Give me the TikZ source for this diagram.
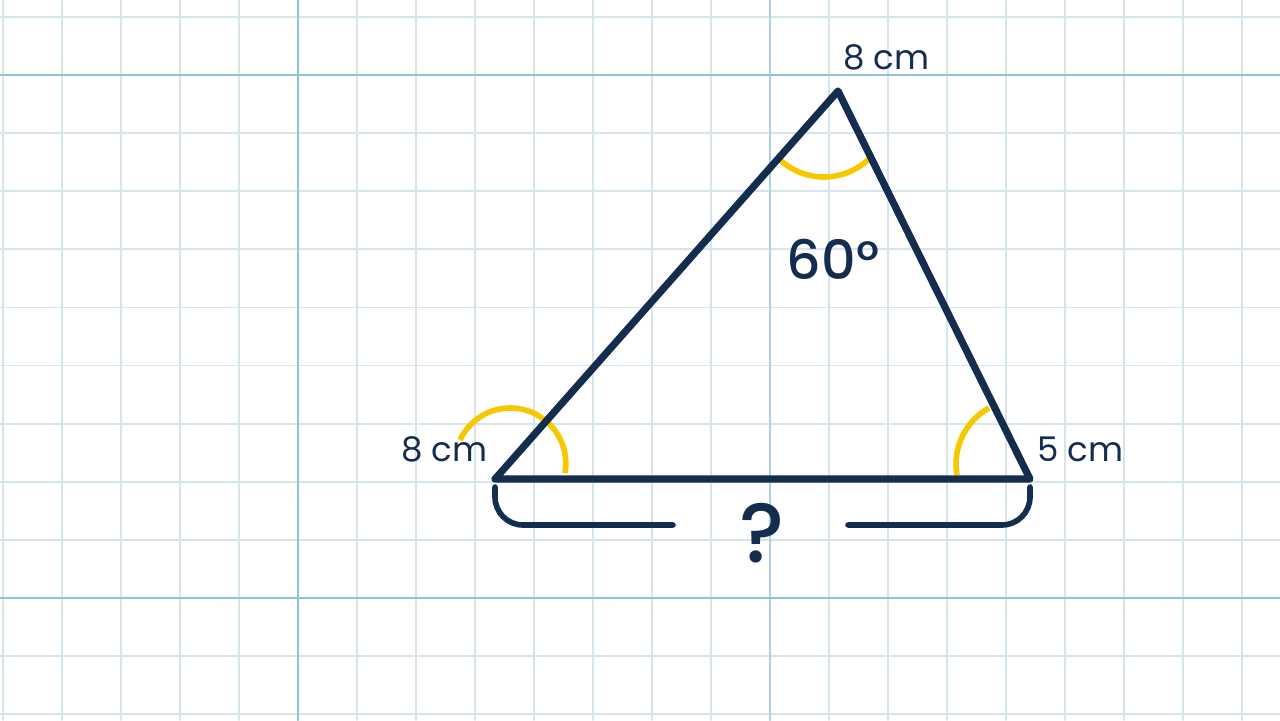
\documentclass[tikz,border=0pt]{standalone}
\usepackage{fontspec}
\setmainfont{Poppins}
\newfontfamily\popmed{Poppins Medium}
\usetikzlibrary{positioning}

\definecolor{navy}{RGB}{20,45,78}
\definecolor{goldarc}{RGB}{246,200,0}
\definecolor{gridminor}{RGB}{214,228,236}
\definecolor{gridmajor}{RGB}{145,195,216}

\begin{document}
\begin{tikzpicture}[x=0.5pt,y=0.5pt,line cap=round,node distance=1cm]
\tikzstyle{side}=[draw=navy,line width=3.6pt,line join=round]
\tikzstyle{angarc}=[draw=goldarc,line width=2.8pt,line cap=butt]
\tikzstyle{brace}=[draw=navy,line width=2.8pt,rounded corners=14pt]
\tikzstyle{lbl}=[text=navy,font=\fontsize{17}{20}\selectfont,inner sep=0pt]
\useasboundingbox (0,0) rectangle (1280,720);
\fill[white] (0,0) rectangle (1280,720);
% graph paper
\foreach \k in {-5,...,16}
  \draw[gridminor,line width=0.9pt] (298+59*\k,0) -- (298+59*\k,720);
\foreach \k in {-1,...,11}
  \draw[gridminor,line width=0.9pt] (0,645-58.1*\k) -- (1280,645-58.1*\k);
\draw[gridmajor,line width=1.2pt] (298,0) -- (298,720);
\draw[gridmajor!75,line width=1pt] (770,0) -- (770,720);
\draw[gridmajor,line width=1.2pt] (0,645) -- (1280,645);
\draw[gridmajor,line width=1.2pt] (0,122.1) -- (1280,122.1);

% vertices
\coordinate (A) at (495,241);
\coordinate (B) at (838,629);
\coordinate (C) at (1030,241);

% angle marks
\draw[angarc] (565,246.9) arc[start angle=-10,end angle=155,radius=55.5];
\draw[angarc] (780.5,559.7) arc[start angle=228,end angle=314,radius=65];
\draw[angarc] (989,312) arc[start angle=119,end angle=190,radius=64];

\draw[side] (A) -- (B) -- (C) -- cycle;

% labels
\node[lbl,above left=8pt and 3.5pt of A] (labA) {8 cm};
\node[lbl,above right=10pt and 2.5pt of B] (labB) {8 cm};
\node[lbl,above right=8.5pt and 3.5pt of C] (labC) {5 cm};
\node[text=navy,font=\popmed\fontsize{27}{30}\selectfont,inner sep=0pt] (ang) at (833,461) {60°};
\node[text=navy,font=\popmed\fontsize{42}{46}\selectfont,inner sep=0pt] (q) at (762,187) {?};

% brace under the base
\coordinate (bl) at (673,195);
\coordinate (br) at (848,195);
\draw[brace] ([yshift=-4pt]A) |- (bl);
\draw[brace] (br) -| ([yshift=-4pt]C);
\end{tikzpicture}
\end{document}
